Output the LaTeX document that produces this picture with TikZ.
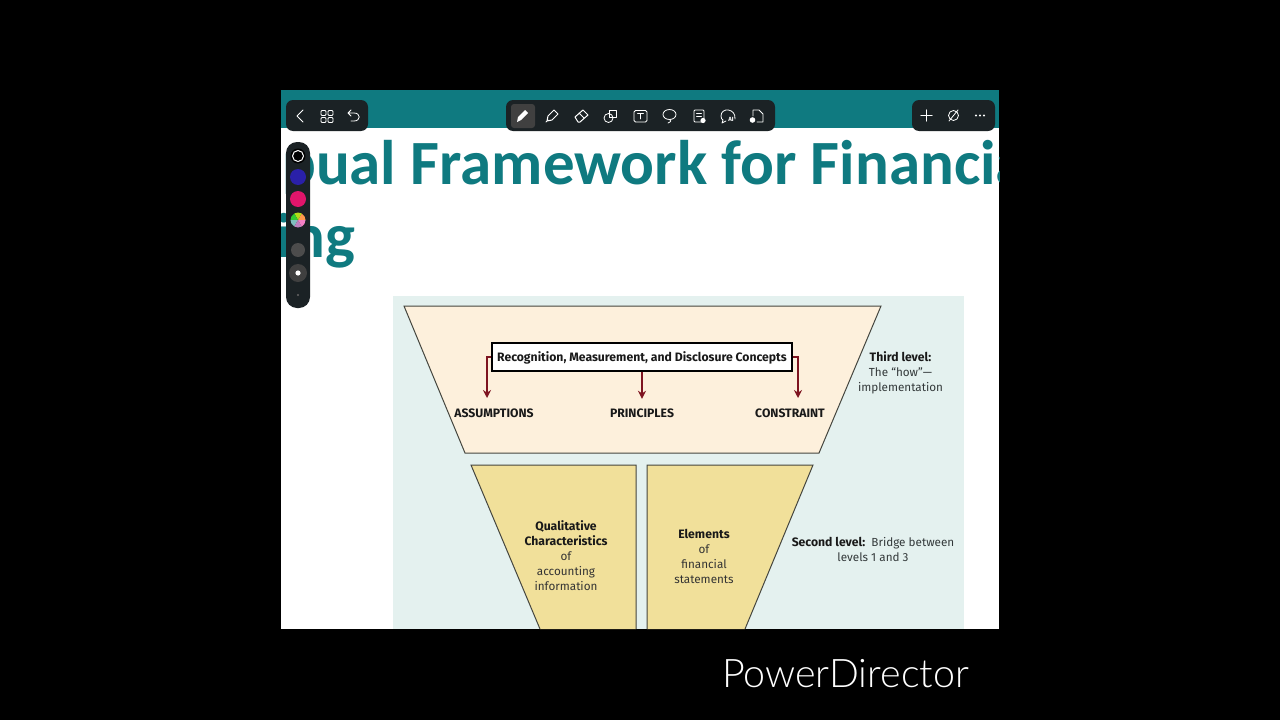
\documentclass[tikz,border=0pt]{standalone}
\usepackage{fontspec}
\setmainfont{Fira Sans}
\newfontfamily\titlefont{Carlito}
\newfontfamily\brandfont{Lato Light}
\usetikzlibrary{arrows.meta,%
		calc,%
		positioning,%
		shapes.geometric}
\definecolor{teal1}{HTML}{0F7A80}
\definecolor{barblack}{HTML}{1B2225}
\definecolor{panel}{HTML}{E4F1EF}
\definecolor{cream}{HTML}{FDF0DC}
\definecolor{straw}{HTML}{F1E09A}
\definecolor{arrowred}{HTML}{7E1420}
\definecolor{edge}{HTML}{45463F}
\definecolor{bodytext}{HTML}{33393A}
\definecolor{swatchblue}{HTML}{2A20A8}
\definecolor{swatchpink}{HTML}{E0156B}
\newcommand{\hd}[1]{{\fontsize{12.2}{15}\selectfont\bfseries\color{black!90}#1}}
\tikzset{
  titletext/.style={font=\titlefont\fontsize{63}{63}\selectfont\bfseries,text=teal1,anchor=base west,inner sep=0pt},
  capslabel/.style={font=\fontsize{12.2}{14}\selectfont\bfseries,text=black!90,inner sep=0pt,minimum height=28pt},
  sidetext/.style={font=\fontsize{11.7}{15}\selectfont,text=bodytext,align=center,inner sep=0pt},
  fieldtext/.style={font=\fontsize{11.7}{15}\selectfont,text=black!80,align=center,inner sep=0pt},
  linkarrow/.style={draw=arrowred,line width=2pt,-{Stealth[length=8pt,width=8pt]}},
  funnel/.style={draw=edge,line width=1pt},
  barbox/.style={fill=barblack,rounded corners=7pt},
  icon/.style={draw=white,line width=1pt,line cap=round,line join=round,fill=none}
}
\begin{document}
\begin{tikzpicture}[x=1pt,y=-1pt]

  \useasboundingbox (0,0) rectangle (1280,720);
  \fill[black] (0,0) rectangle (1280,720);
  \fill[white] (281,90) rectangle (999,629);
  \fill[teal1] (281,90) rectangle (999,128);

  % title, cut by the page
  \begin{scope}
    \clip (281,128) rectangle (999,629);
    \node[titletext] (title1) at (282,184) {pual Framework for Financia};
    \node[titletext] (title2) at (276,257) {ing};
  \end{scope}

  % funnel
  \fill[panel] (393,296) rectangle (964,629);
  \draw[funnel,fill=cream] (404,306) -- (881,306) -- (819,453) -- (465,453) -- cycle;
  \draw[funnel,fill=straw] (540,629) -- (471,465) -- (636,465) -- (636,629);
  \draw[funnel,fill=straw] (647,629) -- (647,465) -- (813,465) -- (745,629);

  \node[draw=black,line width=1.2pt,fill=white,minimum width=300pt,minimum height=28pt,inner sep=0pt,text height=11pt,text depth=2.4pt,font=\fontsize{12.2}{14}\selectfont\bfseries,text=black!90] (concepts) at (642,357) {Recognition, Measurement, and Disclosure Concepts};
  \node[capslabel] (assumptions) at (494,413) {ASSUMPTIONS};
  \node[capslabel] (principles) at (642,413) {PRINCIPLES};
  \node[capslabel] (constraint) at (790,413) {CONSTRAINT};
  \coordinate (tipa) at (487,398);
  \coordinate (tipc) at (798,398);
  \draw[linkarrow] (concepts.west) -| (tipa);
  \draw[linkarrow] (concepts.south) -- (principles.north);
  \draw[linkarrow] (concepts.east) -| (tipc);

  \node[sidetext] (third) at (900.5,373) {\hd{Third level:}\\The “how”—\\implementation};
  \node[sidetext] (second) at (873,549) {\hd{Second level:}\ \ Bridge between\\levels 1 and 3};
  \node[fieldtext] (qualitative) at (566,555.5) {\hd{Qualitative}\\\hd{Characteristics}\\of\\accounting\\information};
  \node[fieldtext] (elements) at (704,556) {\hd{Elements}\\of\\financial\\statements};

  \node[font=\brandfont\fontsize{39.4}{40}\selectfont,text=white,inner sep=0pt] (brand) at (845.5,674) {PowerDirector};

  % toolbars
  \fill[barbox] (286,100) rectangle (368,131);
  \fill[barbox] (506,100) rectangle (775,131);
  \fill[barbox] (912,100) rectangle (995,131);
  \fill[black!75!white,rounded corners=3pt] (511,104) rectangle (535,128);

  \draw[icon] (303,110) -- (297,116) -- (303,122);
  \foreach \gx in {321,328} \foreach \gy in {110.5,117.5}
    \draw[icon,line width=0.8pt,rounded corners=1pt] (\gx,\gy) rectangle +(5,5);
  \draw[icon,line width=0.8pt] (351,110) -- (348,113) -- (351,116) (348,113) -- (354,113) .. controls (361,113) and (361,121) .. (354,121) -- (351,121);

  % pen, highlighter, eraser
  \fill[white] (517,122) -- (518,117) -- (525,110) -- (528,113) -- (521,120) -- cycle;
  \draw[icon] (547,121) -- (548,116) -- (554,110) -- (558,114) -- (552,120) -- cycle (546,122) -- (548,120);
  \draw[icon] (575,117) -- (583,110) -- (588,115) -- (580,122) -- (578,122) -- cycle (579,113) -- (584,118);
  % shapes, text, lasso
  \draw[icon,line width=0.8pt] (609,110) rectangle (616,117);
  \draw[icon,line width=0.8pt] (608.5,118) circle (4.5pt);
  \draw[icon,rounded corners=1.5pt,line width=0.8pt] (634,110.5) rectangle (647,122);
  \draw[icon,line width=0.8pt] (637.5,113.5) -- (643.5,113.5) (640.5,113.5) -- (640.5,119);
  \draw[icon,line width=0.8pt] (669.5,114.5) ellipse (6.5pt and 5pt);
  \draw[icon,line width=0.8pt] (669,119.5) .. controls (672,120) and (671,122) .. (668,123);
  % reader, ai, file
  \draw[icon,line width=0.8pt,rounded corners=1pt] (694,110) rectangle (704,122);
  \draw[icon,line width=0.7pt] (696.5,113) -- (701.5,113) (696.5,116) -- (701.5,116);
  \fill[white] (703,120.5) circle (2.6pt);
  \draw[icon,line width=0.8pt] (735,119) .. controls (736,108) and (721,107) .. (721,116) .. controls (721,118) and (722,120) .. (723,120) -- (722,123) -- (726,121);
  \node[font=\fontsize{6}{6}\selectfont\bfseries,text=white,inner sep=0pt] (ailabel) at (731,119) {AI};
  \draw[icon,line width=0.8pt] (753,116) -- (753,110) -- (759,110) -- (763,114) -- (763,122) -- (757,122);
  \fill[white] (752.5,120) circle (2.8pt);

  % right bar
  \draw[icon,line width=1.2pt] (921,115.5) -- (932,115.5) (926.5,110) -- (926.5,121);
  \draw[icon,line width=0.8pt] (953.5,115.5) circle (5pt) (949,121) -- (958,110);
  \foreach \dx in {976,980,984}
    \fill[white] (\dx,115.5) circle (1.1pt);

  % palette
  \fill[barblack,rounded corners=11pt] (286,142) rectangle (310,308);
  \fill[black] (298,156) circle (7.5pt);
  \draw[white,line width=1pt] (298,156) circle (5.5pt);
  \fill[swatchblue] (298,177) circle (8pt);
  \fill[swatchpink] (298,199) circle (8pt);
  \foreach \wa/\wb/\wc in {0/-60/orange!60!pink,-60/-120/yellow!70!green,-120/-180/green!60!gray,-180/-240/teal!50!white,-240/-300/violet!50!white,-300/-360/magenta!50!white}
    \fill[\wc] (298,220) -- ++(\wa:7.5) arc[start angle=-\wa,end angle=-\wb,radius=7.5pt] -- cycle;
  \fill[black!70!white] (298,250) circle (7pt);
  \fill[black!75!white] (298,273) circle (9pt);
  \fill[white] (298,273) circle (2.6pt);
  \fill[black!60!white] (298,295) circle (1.2pt);

\end{tikzpicture}
\end{document}
